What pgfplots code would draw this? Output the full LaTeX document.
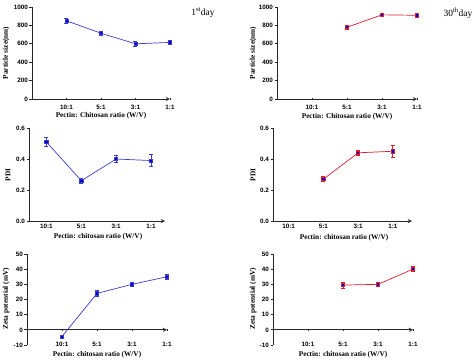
\documentclass[border=0pt]{standalone}
\usepackage{fontspec}
\setmainfont{Liberation Serif}
\setsansfont{Liberation Sans}
\usepackage{pgfplots}
\pgfplotsset{compat=1.18}
\definecolor{myblue}{RGB}{60,60,200}
\definecolor{myred}{RGB}{222,28,50}
\newcommand{\lab}{\bfseries\fontsize{7.3}{8}\selectfont}
\pgfplotsset{
  panel/.style={
    scale only axis,
    axis y line=left,
    axis line style={-, line width=0.9pt, black!85},
    xtick={0,1,2,3},
    xticklabels={10:1,5:1,3:1,1:1},
    tick style={black!85, line width=0.8pt},
    tick align=outside,
    major tick length=2.5pt,
    /pgf/number format/assume math mode=true,
    /pgf/number format/set thousands separator={},
    tick label style={font=\sffamily\bfseries\fontsize{6.3}{7}\selectfont, inner sep=1.5pt},
    y tick label style={/pgf/number format/fixed},
    clip=false,
  },
  bl/.style={color=myblue, line width=0.7pt, mark=square*, mark size=1.6pt,
    error bars/.cd, y dir=both, y explicit,
    error bar style={line width=0.8pt},
    error mark options={rotate=90, mark size=2pt, line width=0.8pt}},
  rd/.style={color=myred, line width=0.7pt, mark=square*, mark size=1.6pt,
    error bars/.cd, y dir=both, y explicit,
    error bar style={line width=0.8pt},
    error mark options={rotate=90, mark size=2pt, line width=0.8pt}},
}
\begin{document}
\begin{tikzpicture}
\useasboundingbox[fill=white] (0,0) rectangle (474pt,-364pt);
% ---------- Top left: particle size, day 1
\begin{axis}[panel, axis x line=bottom, x tick label style={yshift=-3pt},
  at={(32pt,-99pt)}, anchor=south west, width=138pt, height=92pt,
  xmin=-1, xmax=3, ymin=0, ymax=1000, ytick={0,200,...,1000}]
\addplot+[bl] coordinates {(0,850) +- (0,25) (1,715) +- (0,20) (2,600) +- (0,25) (3,615) +- (0,10)};
\end{axis}
% ---------- Top right: particle size, day 30
\begin{axis}[panel, axis x line=bottom, x tick label style={yshift=-3pt},
  at={(277pt,-99pt)}, anchor=south west, width=140pt, height=92pt,
  xmin=-1, xmax=3, ymin=0, ymax=1000, ytick={0,200,...,1000}]
\addplot+[rd] coordinates {(1,780) +- (0,20) (2,915) +- (0,10) (3,910) +- (0,25)};
\end{axis}
% ---------- Middle left: PDI day 1
\begin{axis}[panel, axis x line=bottom, major x tick style={draw=none},
  at={(29pt,-221pt)}, anchor=south west, width=136pt, height=93pt,
  xmin=-0.5, xmax=3.4, ymin=0, ymax=0.6, ytick={0,0.2,0.4,0.6},
  yticklabels={0.0,0.2,0.4,0.6}]
\addplot+[bl] coordinates {(0,0.51) +- (0,0.03) (1,0.26) +- (0,0.015) (2,0.40) +- (0,0.022) (3,0.39) +- (0,0.04)};
\end{axis}
% ---------- Middle right: PDI day 30
\begin{axis}[panel, axis x line=bottom, major x tick style={draw=none},
  at={(273pt,-221pt)}, anchor=south west, width=139pt, height=93pt,
  xmin=-0.45, xmax=3.55, ymin=0, ymax=0.6, ytick={0,0.2,0.4,0.6},
  yticklabels={0.0,0.2,0.4,0.6}]
\addplot+[rd] coordinates {(1,0.27) +- (0,0.015) (2,0.44) +- (0,0.015) (3,0.45) +- (0,0.04)};
\end{axis}
% ---------- Bottom left: zeta day 1
\begin{axis}[panel, axis x line=middle, x tick label style={yshift=-9pt},
  at={(27pt,-345pt)}, anchor=south west, width=140pt, height=91pt,
  xmin=-1, xmax=3, ymin=-10, ymax=50, ytick={-10,0,...,50}]
\addplot+[bl] coordinates {(0,-4.4) +- (0,1) (1,24) +- (0,1.8) (2,30) +- (0,1.6) (3,35) +- (0,1.6)};
\end{axis}
% ---------- Bottom right: zeta day 30
\begin{axis}[panel, axis x line=middle, x tick label style={yshift=-9pt},
  at={(273pt,-345pt)}, anchor=south west, width=140pt, height=91pt,
  xmin=-1, xmax=3, ymin=-10, ymax=50, ytick={-10,0,...,50}]
\addplot+[rd] coordinates {(1,29.5) +- (0,2) (2,30) +- (0,1.5) (3,40) +- (0,1.8)};
\end{axis}
% ---------- axis titles
\node[font=\lab] at (101pt,-116pt) {Pectin: Chitosan ratio (W/V)};
\node[font=\lab] at (347pt,-117pt) {Pectin: Chitosan ratio (W/V)};
\node[font=\lab] at (98pt,-237pt) {Pectin: chitosan ratio (W/V)};
\node[font=\lab] at (344pt,-238pt) {Pectin: chitosan ratio (W/V)};
\node[font=\lab] at (97pt,-355pt) {Pectin: chitosan ratio (W/V)};
\node[font=\lab] at (343pt,-355pt) {Pectin: chitosan ratio (W/V)};
\node[font=\lab, rotate=90] at (6pt,-53pt) {Particle size(nm)};
\node[font=\lab, rotate=90] at (253pt,-53pt) {Particle size(nm)};
\node[font=\lab, rotate=90] at (8pt,-175pt) {PDI};
\node[font=\lab, rotate=90] at (253pt,-175pt) {PDI};
\node[font=\lab, rotate=90] at (6pt,-299pt) {Zeta potential (mV)};
\node[font=\lab, rotate=90] at (253pt,-299pt) {Zeta potential (mV)};
\node[font=\fontsize{9.5}{10}\selectfont, inner sep=0pt] at (203pt,-13pt) {1\textsuperscript{st}day};
\node[font=\fontsize{9.5}{10}\selectfont, inner sep=0pt] at (458pt,-13pt) {30\textsuperscript{th}day};
\end{tikzpicture}
\end{document}
